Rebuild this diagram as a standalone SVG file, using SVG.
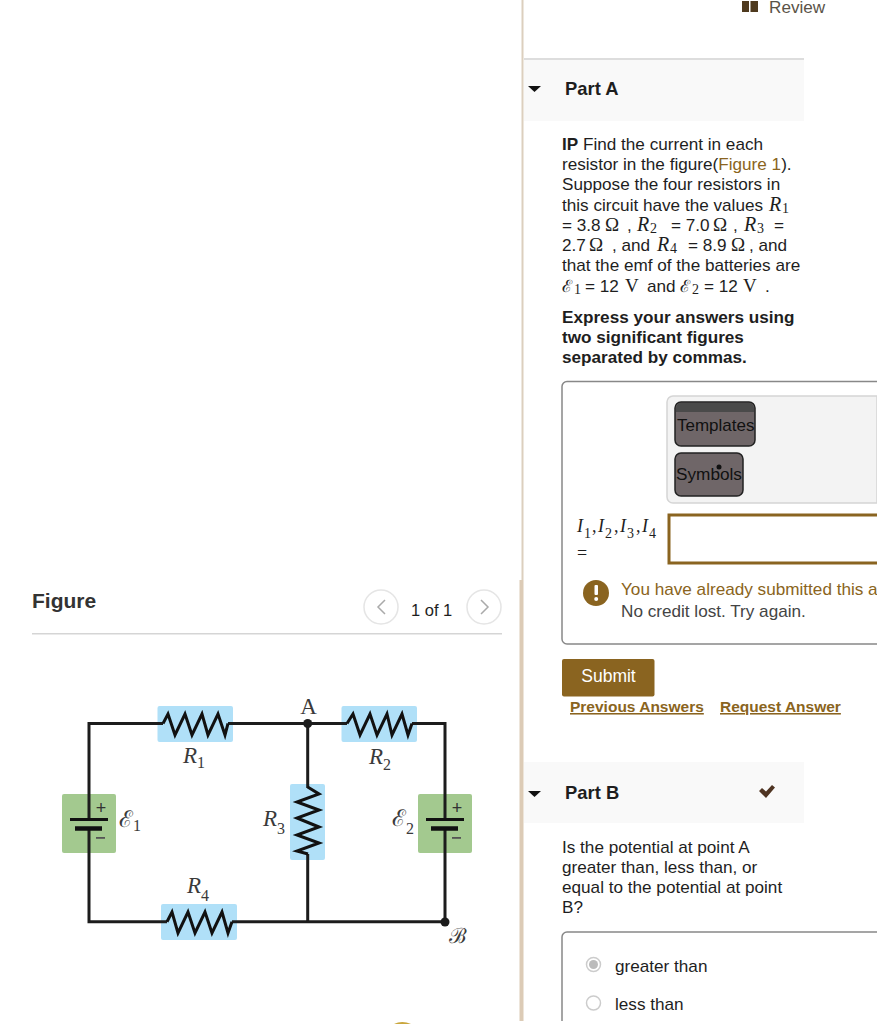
<svg xmlns="http://www.w3.org/2000/svg" width="877" height="1024" viewBox="0 0 877 1024">
<style>
text{font-family:"Liberation Sans",Arial,sans-serif;font-size:17.15px;fill:#1e1e1e}
.b{font-weight:bold}
.m{font-family:"Liberation Serif","Times New Roman",serif;font-style:italic;font-size:20px}
.i{font-family:"Liberation Serif","Times New Roman",serif;font-style:italic;font-size:18px}
.u{font-family:"Liberation Serif","Times New Roman",serif}
.sb{font-family:"Liberation Serif","Times New Roman",serif;font-size:14px}
.o{font-family:"Liberation Serif","Times New Roman",serif;font-size:19px}
.s{font-family:"DejaVu Serif","Liberation Serif",serif}
.c{font-family:"Liberation Serif","Times New Roman",serif;font-style:italic;font-size:23px;fill:#3a3a3a}
.cs{font-family:"Liberation Serif","Times New Roman",serif;font-size:16px;fill:#3a3a3a}
.g{fill:#8a6420}
.w{fill:none;stroke:#1c1c1c;stroke-width:3;stroke-linejoin:miter}
.res{fill:#b0e0f8}
.bat{fill:#a3c98f}
.z{fill:none;stroke:#111;stroke-width:3}
.pl{stroke:#111}
</style>
<rect width="877" height="1024" fill="#fff"/>
<g id="page-chrome">
<rect x="521.5" y="0" width="2" height="580" fill="#dccfbe"/>
<rect x="519.5" y="580" width="4" height="441" fill="#dccbb6"/>
<rect x="524" y="58" width="280" height="63" fill="#f9f9f9"/>
<rect x="524" y="58" width="280" height="2" fill="#ddd"/>
<rect x="524" y="762" width="280" height="61" fill="#f9f9f9"/>
<path d="M528 86h13l-6.500 6z" fill="#111"/>
<path d="M528 791h13l-6.500 6z" fill="#111"/>
<path d="M742 1h7v11h-7zM750.500 1h7.500v11h-7.500z" fill="#4f3a1e"/>
<path d="M759 791l3-3 4 3.500 6-6.500 3 2.500-9 10.500z" fill="#4f3422"/>
<path d="M394 1024Q402 1020 411 1024z" fill="#c9a63c"/>
</g>
<g id="review"><text x="769" y="13" style="fill:#5a5348">Review</text></g>
<g id="part-a">
<text x="565" y="95" class="b" style="font-size:18.4px">Part A</text>
<text x="562" y="150"><tspan class="b">IP</tspan> Find the current in each</text>
<text x="562" y="170">resistor in the figure(<tspan class="g">Figure 1</tspan>).</text>
<text x="562" y="190">Suppose the four resistors in</text>
<text x="562" y="211">this circuit have the values</text>
<text x="769" y="211" class="m">R</text><text x="782" y="213" class="sb">1</text>
<text x="562" y="231">= 3.8</text><text x="605" y="231" class="o">Ω</text><text x="627" y="231">,</text>
<text x="637" y="231" class="m">R</text><text x="650" y="233" class="sb">2</text>
<text x="671" y="231">= 7.0</text><text x="713" y="231" class="o">Ω</text><text x="733" y="231">,</text>
<text x="744" y="231" class="m">R</text><text x="757" y="233" class="sb">3</text><text x="774" y="231">=</text>
<text x="562" y="251">2.7</text><text x="589" y="251" class="o">Ω</text><text x="612" y="251">, and</text>
<text x="657" y="251" class="m">R</text><text x="670" y="253" class="sb">4</text>
<text x="688" y="251">= 8.9</text><text x="731" y="251" class="o">Ω</text><text x="749" y="251">, and</text>
<text x="562" y="271">that the emf of the batteries are</text>
<text x="562" y="292" class="s" style="font-size:17px">ℰ</text><text x="574" y="294" class="sb">1</text>
<text x="585" y="292">= 12</text><text x="625" y="292" class="o">V</text><text x="647" y="292">and</text>
<text x="680" y="292" class="s" style="font-size:17px">ℰ</text><text x="692" y="294" class="sb">2</text>
<text x="704" y="292">= 12</text><text x="743" y="292" class="o">V</text><text x="765" y="292">.</text>
<text x="562" y="323" class="b">Express your answers using</text>
<text x="562" y="343" class="b">two significant figures</text>
<text x="562" y="363" class="b">separated by commas.</text>
</g>
<g id="answer-box">
<path d="M877 381.500H567a5 5 0 0 0-5 5V639a5 5 0 0 0 5 5H877" fill="#fff" stroke="#888" stroke-width="1.500"/>
<path d="M877 396H673a6 6 0 0 0-6 6V497a6 6 0 0 0 6 6H877z" fill="#f3f3f3" stroke="#d5d5d5" stroke-width="1.500"/>
<rect x="675" y="402" width="80" height="44" rx="6" fill="#6f6668" stroke="#222" stroke-width="1.500"/>
<path d="M676 412v-4a5 5 0 0 1 5-5h68a5 5 0 0 1 5 5v4z" fill="#4a4a4a"/>
<text x="677" y="431" style="font-size:17px;fill:#111">Templates</text>
<rect x="675" y="453" width="68" height="43" rx="6" fill="#6f6668" stroke="#222" stroke-width="1.500"/>
<text x="676" y="480" style="font-size:17.200px;fill:#111">Symbols</text>
<circle cx="719" cy="467" r="2.500" fill="#111"/>
<text x="577" y="532" class="i">I</text><text x="584" y="538" class="sb">1</text><text x="592" y="532" class="u" style="font-size:18px">,</text>
<text x="598" y="532" class="i">I</text><text x="605" y="538" class="sb">2</text><text x="614" y="532" class="u" style="font-size:18px">,</text>
<text x="620" y="532" class="i">I</text><text x="627" y="538" class="sb">3</text><text x="636" y="532" class="u" style="font-size:18px">,</text>
<text x="642" y="532" class="i">I</text><text x="649" y="538" class="sb">4</text>
<text x="577" y="559" class="u" style="font-size:18px">=</text>
<path d="M877 515H669V563H877" fill="#fff" stroke="#8a6420" stroke-width="3"/>
<circle cx="596" cy="593" r="13" fill="#8a6420"/>
<rect x="594.500" y="585" width="3.500" height="10" rx="1" fill="#fff"/>
<circle cx="596.200" cy="599" r="2" fill="#fff"/>
<text x="621" y="595" class="g">You have already submitted this a</text>
<text x="621" y="617" style="fill:#444">No credit lost. Try again.</text>
</g>
<g id="submit">
<rect x="562" y="659" width="92.500" height="37.500" rx="2" fill="#8a6420"/>
<text x="608.500" y="682" text-anchor="middle" style="fill:#fff;font-size:17.500px">Submit</text>
<text x="570" y="712" class="b g" style="font-size:15.500px;text-decoration:underline">Previous Answers</text>
<text x="720" y="712" class="b g" style="font-size:15.500px;text-decoration:underline">Request Answer</text>
</g>
<g id="part-b">
<text x="565" y="799" class="b" style="font-size:18.4px">Part B</text>
<text x="562" y="853">Is the potential at point A</text>
<text x="562" y="873">greater than, less than, or</text>
<text x="562" y="893">equal to the potential at point</text>
<text x="562" y="913">B?</text>
<path d="M877 932H567a5 5 0 0 0-5 5V1021" fill="none" stroke="#888" stroke-width="1.500"/>
<circle cx="593.500" cy="964.500" r="7" fill="#fff" stroke="#ccc" stroke-width="1.500"/>
<circle cx="593.500" cy="964.500" r="4.500" fill="#bbb"/>
<circle cx="593.500" cy="1003" r="7" fill="#fff" stroke="#ccc" stroke-width="1.500"/>
<text x="615" y="972">greater than</text>
<text x="615" y="1010">less than</text>
</g>
<g id="figure-header">
<text x="32" y="608" class="b" style="font-size:21px;fill:#333">Figure</text>
<circle cx="381" cy="607" r="17" fill="#fff" stroke="#e5e5e5" stroke-width="1.500"/>
<path d="M385 600l-7 7 7 7" fill="none" stroke="#aaa" stroke-width="1.500"/>
<text x="411" y="616" style="font-size:16.500px">1 of 1</text>
<circle cx="484" cy="607" r="17" fill="#fff" stroke="#e5e5e5" stroke-width="1.500"/>
<path d="M481 600l7 7-7 7" fill="none" stroke="#aaa" stroke-width="1.500"/>
<rect x="32" y="633" width="470" height="1.500" fill="#d5d5d5"/>
</g>
<g id="R1"><rect class="res" x="157.500" y="706" width="75.500" height="36" rx="2"/><text class="c" x="183" y="763">R</text><text class="cs" x="197" y="768">1</text></g>
<g id="R2"><rect class="res" x="341.500" y="706" width="75.500" height="36" rx="2"/><text class="c" x="369" y="764">R</text><text class="cs" x="383" y="770">2</text></g>
<g id="R3"><rect class="res" x="290" y="784" width="35" height="76" rx="2"/><text class="c" x="263" y="826">R</text><text class="cs" x="277" y="834">3</text></g>
<g id="R4"><rect class="res" x="161" y="904" width="76" height="36" rx="2"/><text class="c" x="187" y="893">R</text><text class="cs" x="201" y="901">4</text></g>
<g id="E1"><rect class="bat" x="62" y="794" width="54" height="59" rx="2"/><text x="101" y="814" style="font-size:18px;fill:#333" text-anchor="middle">+</text><rect x="96" y="837" width="9" height="1.800" fill="#555"/><text class="s" x="119" y="827" style="font-size:23px;fill:#3a3a3a">ℰ</text><text class="cs" x="133" y="831">1</text></g>
<g id="E2"><rect class="bat" x="418" y="794" width="54" height="59" rx="2"/><text x="457" y="814" style="font-size:18px;fill:#333" text-anchor="middle">+</text><rect x="452" y="837" width="9" height="1.800" fill="#555"/><text class="s" x="392" y="826" style="font-size:23px;fill:#3a3a3a">ℰ</text><text class="cs" x="406" y="834">2</text></g>
<g id="A"><circle cx="307.700" cy="723.500" r="4.500" fill="#1c1c1c"/><text x="308.500" y="714" text-anchor="middle" style="font-family:'Liberation Serif',serif;font-size:23px;fill:#3a3a3a">A</text></g>
<g id="B"><circle cx="445" cy="922" r="4.500" fill="#1c1c1c"/><text class="s" x="449" y="943" style="font-size:21px;fill:#3a3a3a">ℬ</text></g>
<g id="connectors">
<path class="w" d="M89 818V723.500H163M228 723.500H347M412 723.500H445V818"/>
<path class="w" d="M89 829V921.700H167M232 921.700H445V829"/>
<path class="w" d="M307.700 723.500V788M307.700 854V921.700"/>
<path class="z" d="M163 723.500L168 714L175 735L185 714L192 735L202 714L208 735L218 714L225 735L228 723.500"/>
<path class="z" d="M347 723.500L353 714L360 735L370 714L377 735L387 714L392 735L402 714L408 735L412 723.500"/>
<path class="z" d="M167 921.700L172 912L178 933L188 912L195 933L205 912L212 933L222 912L228 933L232 921.700"/>
<path class="z" d="M307.700 787L319 794L297 802L319 810L297 818L319 827L297 835L319 843L297 851L308 854"/>
<path class="pl" d="M70 819.500H108" stroke-width="3"/><path class="pl" d="M75 828.500H102" stroke-width="4.500"/>
<path class="pl" d="M426 819.500H464" stroke-width="3"/><path class="pl" d="M431 828.500H458" stroke-width="4.500"/>
</g>
</svg>
